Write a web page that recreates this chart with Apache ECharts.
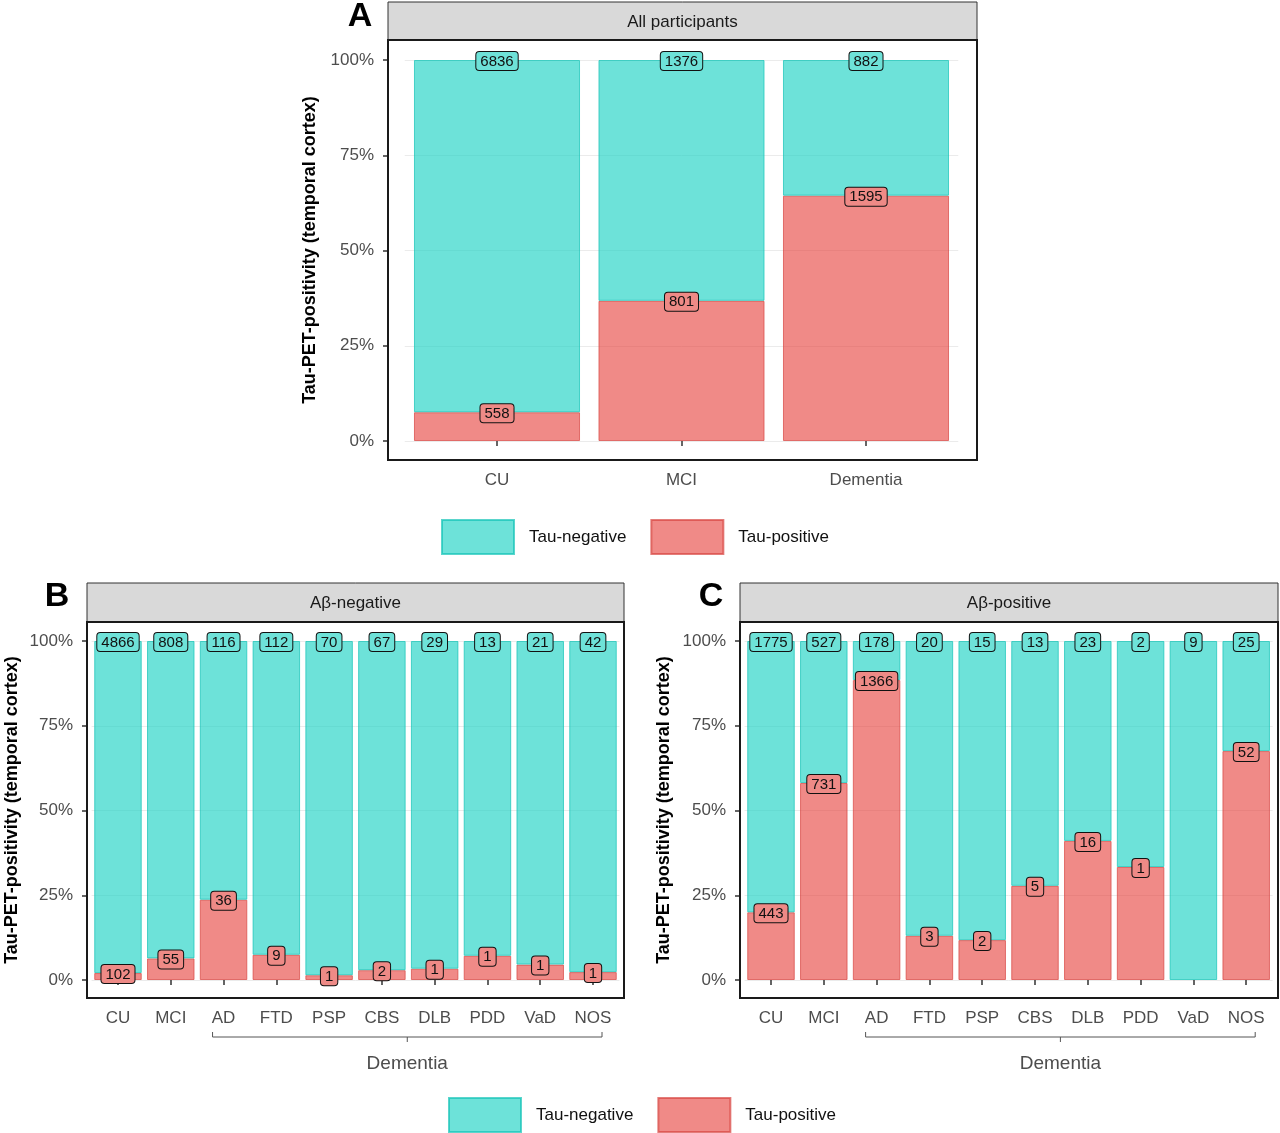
<!DOCTYPE html>
<html>
<head>
<meta charset="UTF-8">
<title>Tau-PET positivity</title>
<script src="https://cdn.jsdelivr.net/npm/echarts@6.0.0/dist/echarts.min.js"></script>
<style>
  body { margin: 0; background: #fff; }
  #chart { width: 1280px; height: 1133px; }
</style>
</head>
<body>
<div id="chart"></div>
<script>
// categories
var catsA = ['CU', 'MCI', 'Dementia'];
var catsBC = ['CU', 'MCI', 'AD', 'FTD', 'PSP', 'CBS', 'DLB', 'PDD', 'VaD', 'NOS'];
// counts (A: all participants)
var negA = [6836, 1376, 882];
var posA = [558, 801, 1595];
// counts (B: Abeta-negative)
var negB = [4866, 808, 116, 112, 70, 67, 29, 13, 21, 42];
var posB = [102, 55, 36, 9, 1, 2, 1, 1, 1, 1];
// counts (C: Abeta-positive)
var negC = [1775, 527, 178, 20, 15, 13, 23, 2, 9, 25];
var posC = [443, 731, 1366, 3, 2, 5, 16, 1, 0, 52];

var font = "'Liberation Sans', Arial, sans-serif";
var tealFill = 'rgba(31,211,196,0.65)', tealLine = 'rgba(20,195,182,0.7)', tealBg = '#6EE2D8';
var redFill = 'rgba(230,60,55,0.6)', redLine = 'rgba(215,70,65,0.7)', redBg = '#EE8A86';

// share of each group in percent, keeping the count for the label
function toPct(pos, neg, usePos) {
    return pos.map(function (p, i) {
        var n = usePos ? p : neg[i];
        var item = { value: n / (p + neg[i]) * 100, count: n };
        if (n === 0) {
            item.label = { show: false };
            item.itemStyle = { borderWidth: 0 };
        }
        return item;
    });
}

function barSeries(name, idx, data, fill, line, bg) {
    return {
        name: name, type: 'bar', xAxisIndex: idx, yAxisIndex: idx, stack: 's' + idx,
        barCategoryGap: '10%', data: data,
        itemStyle: { color: fill, borderColor: line, borderWidth: 1 },
        label: {
            show: true, position: 'top', distance: -10,
            formatter: function (p) { return p.data.count; },
            backgroundColor: bg, borderColor: '#111', borderWidth: 1, borderRadius: 3,
            padding: [2, 4, 1, 4], fontSize: 15, color: '#111', fontFamily: font
        },
        emphasis: { disabled: true }
    };
}

// panel geometry: grid = data range, box = full panel incl. ggplot expansion
var panels = [
    { grid: { left: 404.75, right: 321.75, top: 60, bottom: 692 }, box: [388, 40, 977, 460], strip: [388, 2, 40], title: 'All participants', letter: 'A', lx: 360, ly: 17, tx: 310, cats: catsA },
    { grid: { left: 91.6, right: 660.6, top: 641, bottom: 153 }, box: [87, 622, 624, 998], strip: [87, 583, 622], title: 'A\u03b2-negative', letter: 'B', lx: 57, ly: 597, tx: 12, cats: catsBC },
    { grid: { left: 744.6, right: 7.4, top: 641, bottom: 153 }, box: [740, 622, 1278, 998], strip: [740, 583, 622], title: 'A\u03b2-positive', letter: 'C', lx: 711, ly: 597, tx: 664, cats: catsBC }
];

var grids = [], xAxes = [], yAxes = [], graphics = [];
panels.forEach(function (pn, i) {
    var b = pn.box;
    grids.push(pn.grid);
    xAxes.push({
        type: 'category', gridIndex: i, data: pn.cats, offset: b[3] - (1133 - pn.grid.bottom),
        axisLine: { show: false },
        axisTick: { show: true, alignWithLabel: true, length: 5, lineStyle: { color: '#333', width: 1.5 } },
        axisLabel: { color: '#4d4d4d', fontSize: 17, fontFamily: font, margin: 12, interval: 0 }
    });
    yAxes.push({
        type: 'value', gridIndex: i, min: 0, max: 100, interval: 25,
        offset: pn.grid.left - b[0],
        axisLine: { show: false },
        axisTick: { show: true, length: 5, lineStyle: { color: '#333', width: 1.5 } },
        axisLabel: { color: '#4d4d4d', fontSize: 17, fontFamily: font, margin: 14, formatter: '{value}%' },
        splitLine: { show: true, lineStyle: { color: '#ebebeb', width: 1 } }
    });
    graphics.push(
        { type: 'rect', shape: { x: b[0], y: pn.strip[1], width: b[2] - b[0], height: pn.strip[2] - pn.strip[1] },
          style: { fill: '#d9d9d9', stroke: '#333', lineWidth: 1 }, z: 10 },
        { type: 'text', x: (b[0] + b[2]) / 2, y: (pn.strip[1] + pn.strip[2]) / 2 + 1,
          style: { text: pn.title, fontSize: 17, fontFamily: font, fill: '#1a1a1a', textAlign: 'center', textVerticalAlign: 'middle' }, z: 11 },
        { type: 'rect', shape: { x: b[0], y: b[1], width: b[2] - b[0], height: b[3] - b[1] },
          style: { fill: 'none', stroke: '#1a1a1a', lineWidth: 2 }, z: 10 },
        { type: 'text', x: pn.lx, y: pn.ly,
          style: { text: pn.letter, fontSize: 34, fontWeight: 'bold', fontFamily: font, fill: '#000', textAlign: 'center', textVerticalAlign: 'middle' }, z: 11 },
        { type: 'text', x: pn.tx, y: (b[1] + b[3]) / 2, rotation: Math.PI / 2,
          style: { text: 'Tau-PET-positivity (temporal cortex)', fontSize: 18, fontWeight: 'bold', fontFamily: font, fill: '#000', textAlign: 'center', textVerticalAlign: 'middle' }, z: 11 }
    );
});

var series = [
    barSeries('Tau-positive', 0, toPct(posA, negA, true), redFill, redLine, redBg),
    barSeries('Tau-negative', 0, toPct(posA, negA, false), tealFill, tealLine, tealBg),
    barSeries('Tau-positive', 1, toPct(posB, negB, true), redFill, redLine, redBg),
    barSeries('Tau-negative', 1, toPct(posB, negB, false), tealFill, tealLine, tealBg),
    barSeries('Tau-positive', 2, toPct(posC, negC, true), redFill, redLine, redBg),
    barSeries('Tau-negative', 2, toPct(posC, negC, false), tealFill, tealLine, tealBg)
];

function legendAt(left, top) {
    return {
        left: left, top: top, padding: 0, orient: 'horizontal', itemWidth: 72, itemHeight: 34, itemGap: 24,
        icon: 'rect', selectedMode: false,
        data: ['Tau-negative', 'Tau-positive'],
        textStyle: { fontSize: 17, color: '#111', fontFamily: font, padding: [0, 0, 0, 10] }
    };
}

var chart = echarts.init(document.getElementById('chart'));
chart.setOption({
    animation: false,
    backgroundColor: '#fff',
    grid: grids, xAxis: xAxes, yAxis: yAxes, series: series,
    legend: [legendAt(441, 519), legendAt(448, 1097)],
    graphic: graphics
});

// "Dementia" brackets under AD..NOS in panels B and C
var extra = [];
[1, 2].forEach(function (i) {
    var x1 = chart.convertToPixel({ xAxisIndex: i }, 'AD') - 11;
    var x2 = chart.convertToPixel({ xAxisIndex: i }, 'NOS') + 9;
    var xm = (x1 + x2) / 2, y = 1037;
    extra.push(
        { type: 'polyline', shape: { points: [[x1, y - 5], [x1, y], [x2, y], [x2, y - 5]] },
          style: { stroke: '#555', lineWidth: 1, fill: 'none' } },
        { type: 'line', shape: { x1: xm, y1: y, x2: xm, y2: y + 5 }, style: { stroke: '#555', lineWidth: 1 } },
        { type: 'text', x: xm, y: 1064,
          style: { text: 'Dementia', fontSize: 19, fontFamily: font, fill: '#4d4d4d', textAlign: 'center', textVerticalAlign: 'middle' } }
    );
});
chart.setOption({ graphic: graphics.concat(extra) });
</script>
</body>
</html>
